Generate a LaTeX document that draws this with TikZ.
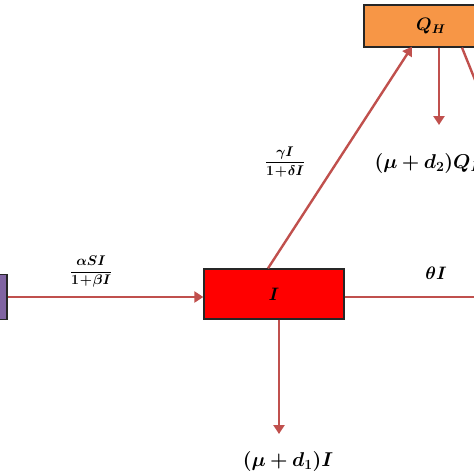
\documentclass[tikz,border=0pt]{standalone}
\usepackage{fix-cm}
\usepackage{amsmath,bm}
\usetikzlibrary{arrows.meta}
\definecolor{flow}{HTML}{C0504D}
\definecolor{boxS}{HTML}{8064A2}
\definecolor{boxQ}{HTML}{F79646}
\definecolor{boxI}{HTML}{FF0000}
\tikzset{
  comp/.style={draw=black!85, line width=1.3pt, inner sep=0pt},
  flowline/.style={draw=flow, line width=2.4pt},
  flowarrow/.style={flowline, -{Triangle[length=9pt,width=11pt]}},
  big/.style={font=\fontsize{20}{24}\selectfont},
  small/.style={font=\fontsize{14}{16}\selectfont, inner sep=1pt},
}
\begin{document}
\begin{tikzpicture}[x=1pt,y=-1pt]
\useasboundingbox (0,0) rectangle (474,474);
\clip (0,0) rectangle (474,474);
% compartments
\node[comp, fill=boxS, minimum width=67pt, minimum height=45pt] (S) at (-26.5,297) {};
\node[comp, fill=boxI, minimum width=140pt, minimum height=50pt] (I) at (274,294) {\fontsize{18}{20}\selectfont$\bm{I}$};
\node[comp, fill=boxQ, minimum width=134pt, minimum height=42pt] (Q) at (431,26) {\fontsize{18}{20}\selectfont$\bm{Q_H}$};
% free ends
\coordinate (Iout) at (490,297);
\coordinate (Rin) at (490,117);
\coordinate (Idie) at (279,434);
\coordinate (Qdie) at (439,125);
% connectors
\draw[flowarrow] (S.east) -- (S.east -| I.west);
\draw[flowarrow] ([xshift=-6pt]I.north) -- ([xshift=-19pt,yshift=1pt]Q.south);
\draw[flowline] (S.east -| I.east) -- (Iout);
\draw[flowarrow] ([xshift=5pt]I.south) -- (Idie);
\draw[flowarrow] ([xshift=8pt]Q.south) -- (Qdie);
\draw[flowline] ([xshift=31pt]Q.south) -- (Rin);
% labels
\node[small] (l1) at (91,272) {$\dfrac{\bm{\alpha S I}}{\bm{1\!+\!\beta I}}$};
\node[small] (l2) at (285,162) {$\dfrac{\bm{\gamma I}}{\bm{1\!+\!\delta I}}$};
\node[big, anchor=west] (l3) at (371,163) {$\bm{(\mu+d_2)Q_H}$};
\node[big] (l4) at (288,461) {$\bm{(\mu+d_1)I}$};
\node[font=\fontsize{18}{20}\selectfont] (l5) at (436,273) {$\bm{\theta I}$};
\end{tikzpicture}
\end{document}
